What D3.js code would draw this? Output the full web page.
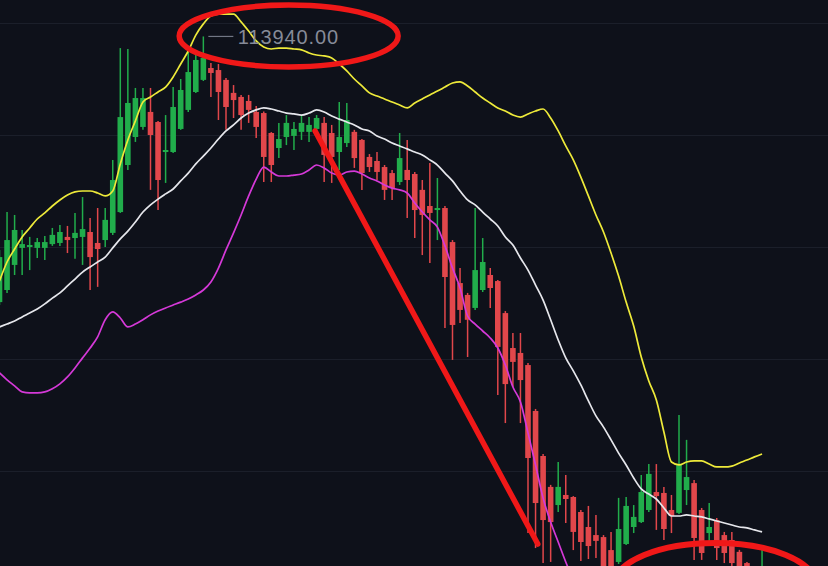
<!DOCTYPE html>
<html><head><meta charset="utf-8">
<script src="https://cdn.jsdelivr.net/npm/d3@7"></script>
<style>html,body{margin:0;padding:0;background:#0e111a;}svg{display:block}</style>
</head><body><svg id="c" width="828" height="566"></svg>
<script>
// ---- data (prices) ----
const opens = [112754,112808,112920,112996,113000,112996,112996,113013,113018,113045,
113040,113045,113067,113018,113031,113063,113156,113366,113491,113536,
113603,113558,113424,113424,113527,113612,113692,113746,113799,113790,
113746,113688,113670,113652,113603,113598,113509,113442,113491,113496,
113514,113514,113527,113554,113509,113424,113464,113514,113478,113402,
113384,113357,113330,113290,113344,113326,113255,113183,113165,113174,
113022,112839,112786,112728,112808,112875,112848,112705,112549,112527,
112473,112268,112067,111929,111848,111893,111884,111817,111750,111714,
111705,111647,111594,111674,111750,111772,111826,111906,111902,111826,
111813,111915,111946,111826,111723,111781,111714,111692,111639,111589,
111549,111469];
const highs = [112987,113156,113143,113076,113045,113040,113049,113085,113098,113094,
113152,113223,113130,113174,113174,113388,113888,113884,113710,113710,
113710,113563,113589,113714,113750,113888,113879,113940,113821,113817,
113754,113723,113679,113679,113630,113605,113513,113554,113589,113558,
113585,113580,113589,113580,113545,113647,113643,113523,113482,113415,
113424,113366,113344,113509,113478,113335,113299,113375,113308,113183,
113031,112906,112795,113174,113040,112906,112853,112714,112616,112616,
112482,112277,112076,111938,112040,111982,111888,111826,111844,111804,
111714,111728,111880,111884,111848,111982,112031,112031,111929,111893,
112250,112139,111960,111835,111857,111790,111728,111728,111648,111594,
111567,111648];
const lows = [112741,112795,112875,112875,112897,112951,112942,113005,113005,112973,
112947,112920,112808,112822,113000,113054,113152,113344,113469,113523,
113255,113165,113286,113420,113523,113603,113688,113741,113670,113567,
113523,113576,113523,113554,113487,113290,113290,113397,113455,113433,
113478,113469,113518,113290,113286,113344,113446,113353,113255,113335,
113299,113210,113210,113277,113130,113040,112964,112929,113031,112638,
112496,112661,112509,112719,112799,112728,112339,112214,112375,112214,
111723,111656,111589,111594,111817,111768,111647,111598,111607,111612,
111523,111514,111585,111670,111723,111768,111817,111737,111692,111723,
111808,111848,111603,111603,111679,111603,111589,111567,111514,111491,
111442,111447];
const closes = [112955,113031,113076,113013,113009,113022,113022,113054,113067,113031,
113063,113080,112955,112991,113121,113299,113580,113643,113665,113665,
113500,113299,113433,113625,113701,113781,113835,113844,113777,113692,
113625,113656,113589,113612,113536,113402,113366,113482,113554,113527,
113554,113545,113576,113411,113402,113491,113567,113397,113330,113357,
113335,113255,113263,113397,113299,113165,113143,113152,113174,112866,
112652,112719,112675,112897,112933,112817,112554,112388,112487,112406,
112058,111857,111781,111772,111929,111875,111728,111683,111665,111688,
111558,111549,111741,111844,111795,111906,111987,111888,111741,111799,
112027,111973,111701,111634,111750,111656,111634,111589,111536,111514,
111469,111536];
// Bollinger bands
const upperBand = [112848,112933,112991,113045,113085,113125,113152,113183,113210,113232,
113246,113250,113250,113241,113228,113250,113371,113478,113563,113647,
113670,113692,113714,113759,113817,113875,113946,113996,114031,114040,
114040,114040,114005,113964,113920,113893,113884,113888,113888,113884,
113880,113866,113857,113853,113844,113817,113786,113750,113719,113688,
113674,113661,113647,113634,113621,113643,113661,113679,113696,113714,
113732,113737,113719,113692,113665,113643,113621,113607,113589,113580,
113594,113607,113616,113576,113518,113451,113389,113312,113228,113143,
113067,112973,112870,112754,112647,112509,112402,112317,112174,112040,
112027,112040,112045,112045,112031,112018,112018,112022,112036,112049,
112063,112076];
const middleBand = [112643,112656,112670,112688,112705,112723,112746,112772,112795,112826,
112857,112888,112911,112933,112955,112996,113036,113071,113112,113156,
113188,113214,113237,113259,113295,113330,113371,113406,113442,113482,
113518,113545,113576,113598,113612,113621,113616,113607,113598,113594,
113589,113598,113612,113603,113585,113571,113558,113545,113527,113518,
113496,113482,113464,113451,113438,113424,113411,113389,113366,113330,
113295,113250,113210,113188,113156,113125,113094,113045,113009,112951,
112897,112830,112763,112675,112585,112505,112447,112384,112313,112246,
112196,112139,112080,112027,111969,111920,111897,111875,111835,111799,
111799,111804,111799,111795,111786,111777,111768,111759,111750,111746,
111737,111728];
const lowerBand = [112438,112407,112380,112353,112349,112349,112353,112367,112389,112420,
112460,112505,112549,112599,112675,112710,112683,112643,112656,112675,
112697,112714,112728,112741,112754,112768,112786,112808,112844,112906,
112987,113063,113143,113228,113303,113357,113335,113317,113317,113321,
113326,113344,113366,113353,113330,113321,113335,113339,113326,113308,
113295,113277,113263,113255,113241,113196,113156,113121,113089,113005,
112906,112817,112692,112656,112625,112594,112549,112473,112375,112308,
112170,112027,111879,111772,111683,111594,111514,null,null,null,
null,null,null,null,null,null,null,null,null,null,
null,null,null,null,null,null,null,null,null,null,
null,null];
const gridPrices = [114000, 113500, 113000, 112500, 112000];
const highLabelIndex = 27;
const highLabelValue = 113940;
const highLabelText = "113940.00";
// hand-drawn annotations, in data coordinates (candle index, price)
const annoEllipses = [
  {cx: 38.3, cy: 113942, rx: 14.5, ry: 138, w: 5.5},
  {cx: 94.77, cy: 111496, rx: 13.25, ry: 183, w: 6}
];
const annoArrow = {i1: 41.8, p1: 113518, i2: 71.3, p2: 111674};

// ---- drawing ----
const W = 828, H = 566;
const svg = d3.select('#c');
const x = d3.scaleLinear().domain([0, 101]).range([-0.5, 762.05]);
const y = d3.scaleLinear().domain([111000, 114000]).range([695, 23]);

svg.append('rect').attr('width', W).attr('height', H).attr('fill', '#0e111a');

svg.append('g').selectAll('line').data(gridPrices).join('line')
  .attr('x1', 0).attr('x2', W)
  .attr('y1', d => Math.round(y(d)) + 0.5).attr('y2', d => Math.round(y(d)) + 0.5)
  .attr('stroke', '#1b1f2a').attr('stroke-width', 1);

const candles = d3.range(opens.length).map(i => ({i, o: opens[i], h: highs[i], l: lows[i], c: closes[i]}));
const upCol = '#21ad4b', downCol = '#e1474b';
const col = d => d.c >= d.o ? upCol : downCol;
const cg = svg.append('g');
cg.selectAll('line').data(candles).join('line')
  .attr('x1', d => x(d.i)).attr('x2', d => x(d.i))
  .attr('y1', d => y(d.h)).attr('y2', d => y(d.l))
  .attr('stroke', col).attr('stroke-width', 1.5);
const bw = 5.6;
cg.selectAll('rect').data(candles).join('rect')
  .attr('x', d => x(d.i) - bw / 2).attr('width', bw)
  .attr('y', d => {
    const t = y(Math.max(d.o, d.c)), b = y(Math.min(d.o, d.c));
    return (b - t) < 2 ? (t + b) / 2 - 1 : t;
  })
  .attr('height', d => Math.max(2, Math.abs(y(d.o) - y(d.c))))
  .attr('fill', col);

const bandLine = d3.line().defined(d => d != null).x((d, i) => x(i)).y(d => y(d)).curve(d3.curveMonotoneX);
[[upperBand, '#eeea3a'], [middleBand, '#e6e7ec'], [lowerBand, '#d539d8']].forEach(([arr, c]) => {
  svg.append('path').datum(arr).attr('d', bandLine)
    .attr('fill', 'none').attr('stroke', c).attr('stroke-width', 1.7).attr('stroke-linejoin', 'round');
});

// high price label
const hx = x(highLabelIndex), hy = y(highLabelValue);
svg.append('line').attr('x1', hx + 5).attr('x2', hx + 30).attr('y1', hy).attr('y2', hy)
  .attr('stroke', '#717684').attr('stroke-width', 1.2);
svg.append('text').attr('x', hx + 34.5).attr('y', hy + 7.5)
  .attr('font-family', '"Liberation Sans", Arial, sans-serif').attr('font-size', 20)
  .attr('letter-spacing', 0.9).attr('fill', '#868b98').text(highLabelText);

// annotations
const red = '#f01818';
annoEllipses.forEach(e => {
  svg.append('ellipse')
    .attr('cx', x(e.cx)).attr('cy', y(e.cy))
    .attr('rx', x(e.cx + e.rx) - x(e.cx)).attr('ry', y(e.cy - e.ry) - y(e.cy))
    .attr('fill', 'none').attr('stroke', red).attr('stroke-width', e.w);
});
svg.append('line')
  .attr('x1', x(annoArrow.i1)).attr('y1', y(annoArrow.p1))
  .attr('x2', x(annoArrow.i2)).attr('y2', y(annoArrow.p2))
  .attr('stroke', red).attr('stroke-width', 5.5).attr('stroke-linecap', 'round');
</script></body></html>
